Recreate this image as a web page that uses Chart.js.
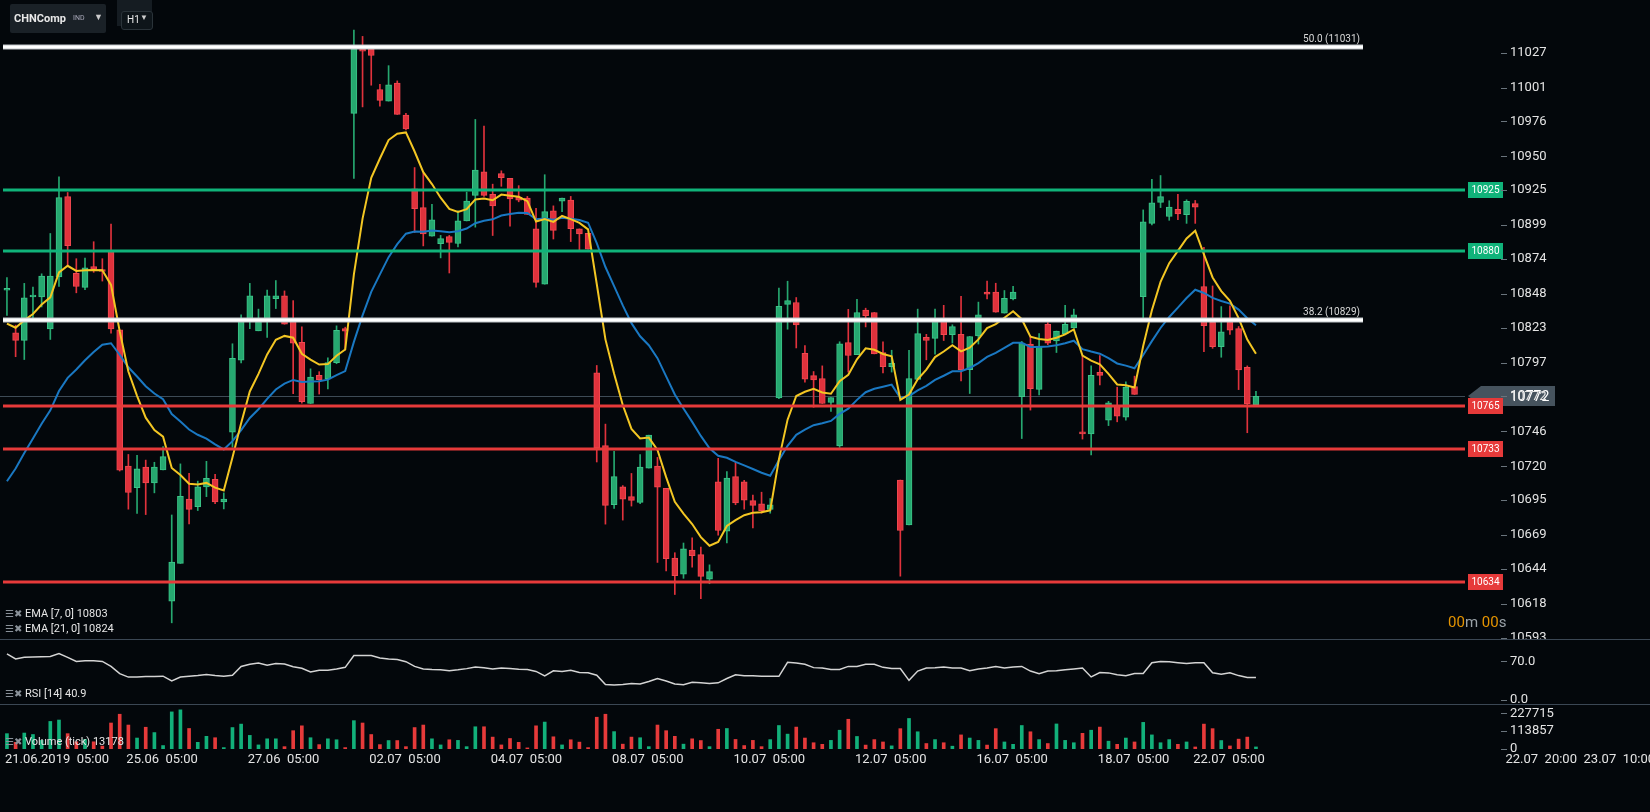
<!DOCTYPE html>
<html><head><meta charset="utf-8">
<script src="https://cdn.jsdelivr.net/npm/chart.js@4.4.1/dist/chart.umd.min.js"></script>
<style>
html,body{margin:0;padding:0;background:#03070b;width:1650px;height:812px;overflow:hidden;font-family:Roboto,"Open Sans",sans-serif;}
.pane{position:absolute;left:0;width:1650px;}
#p1{top:0;height:639px;}
#p2{top:639px;height:66px;border-top:1px solid #3b4754;box-sizing:border-box;}
#p3{top:704px;height:70px;border-top:1px solid #3b4754;box-sizing:border-box;}
canvas{display:block}
.leg{position:absolute;left:5px;color:#e6e6e6;font-size:11px;white-space:nowrap;}
.leg .ic{color:#8a929a;font-size:10px;margin-right:3px;}
.box1{position:absolute;left:10px;top:4px;width:96px;height:29px;background:#1a2127;border-radius:2px;}
.box1 b{position:absolute;left:4px;top:8px;color:#e8e8e8;font-size:11px;}
.box1 i{position:absolute;left:63px;top:10px;color:#aab;font-size:7px;font-style:normal;}
.box1 s{position:absolute;left:84px;top:8px;color:#ccc;font-size:9px;text-decoration:none;}
.box0{position:absolute;left:117px;top:0;width:35px;height:26px;background:#151c22;}
.box2{position:absolute;left:121px;top:11px;width:30px;height:17px;background:#0e151a;border:1px solid #2a3339;border-radius:3px;color:#e8e8e8;font-size:10px;}
.box2 span{position:absolute;left:5px;top:2px}
.box2 s{position:absolute;left:18px;top:1px;color:#ccc;font-size:8px;text-decoration:none}
#timer{position:absolute;left:1448px;top:613px;font-size:15px;color:#9aa2a8;}
#timer em{font-style:normal;color:#e59400}
</style></head><body>
<div class="pane" id="p1"><canvas id="c1" width="1650" height="639" style="width:1650px;height:639px"></canvas></div>
<div class="pane" id="p2"><canvas id="c2" width="1650" height="64" style="width:1650px;height:64px"></canvas></div>
<div class="pane" id="p3"><canvas id="c3" width="1650" height="68" style="width:1650px;height:68px"></canvas></div>
<div class="box1"><b>CHNComp</b><i>IND</i><s>▼</s></div>
<div class="box0"></div><div class="box2"><span>H1</span><s>▼</s></div>
<div class="leg" style="top:607px"><span class="ic">☰✖</span>EMA [7, 0] 10803</div>
<div class="leg" style="top:622px"><span class="ic">☰✖</span>EMA [21, 0] 10824</div>
<div class="leg" style="top:687px"><span class="ic">☰✖</span>RSI [14] 40.9</div>
<div class="leg" style="top:735px"><span class="ic">☰✖</span>Volume (tick) 13178</div>
<div id="timer"><em>00</em>m <em>00</em>s</div>
<script>
const opens=[10850.7,10819.2,10813.5,10845.8,10845.8,10822.0,10860.5,10920.1,10863.3,10852.8,10868.2,10866.1,10879.7,10821.3,10720.3,10704.2,10719.6,10707.7,10717.5,10620,10648.1,10695.8,10690.2,10704.9,10710.5,10693.7,10745.5,10798.8,10827.8,10820.6,10827.6,10844.4,10846.5,10827.6,10812.1,10766.7,10787.6,10785,10797,10822.2,10981.9,11029.6,11029.6,10999.6,10991,11004.4,10980.6,10925.9,10912,10890.8,10885.2,10890.5,10885.4,10902.1,10921.1,10938.5,10921.9,10937.2,10933.7,10919.7,10919,10896.2,10855.2,10909.6,10916.8,10917.6,10896.2,10892.9,10789.5,10735.4,10691.6,10704.8,10697.6,10693.4,10718.8,10720.2,10703.7,10652,10640,10658,10654.6,10636.3,10708.5,10672,10712.5,10708.5,10694.6,10692.3,10688.1,10770.9,10840.2,10841.6,10803.9,10787.4,10785.1,10767.4,10735.3,10811.8,10803,10836,10834.2,10804.4,10794.1,10709.9,10676.7,10784.6,10815.7,10815,10829,10817.8,10818,10791.7,10816.9,10849.4,10849.4,10833.7,10844.2,10771.8,10810.8,10777.2,10825.5,10813.1,10818.5,10822.7,10745.6,10744.2,10789.8,10754.3,10764.8,10756.6,10779.3,10845.9,10900.3,10915.9,10905.4,10910.8,10906.8,10915,10853.5,10826.9,10808.8,10827.3,10822.2,10793.5,10765.7];
const highs=[10860.1,10824.8,10855.8,10853.0,10862.9,10892.8,10934.8,10923.2,10874.1,10874.5,10886.7,10874.1,10899.8,10821.3,10728.9,10728.2,10724.7,10723.1,10734.8,10684,10721.9,10714.9,10709.1,10723.8,10714.2,10700.4,10811.0,10832.5,10855.8,10836.7,10850.9,10857.9,10850.2,10843.0,10823.6,10792.4,10790.3,10800.5,10824.3,10823.3,11043.6,11039,11029.6,11003.4,11017.3,11006,10981.9,10941.7,10937.7,10914.4,10891.4,10891.4,10909.6,10923.5,10977.4,10972.5,10929.4,10939.3,10933.7,10928.3,10920.3,10911.4,10936.4,10913.3,10919,10920.3,10896.2,10892.9,10794.9,10751.4,10731.3,10705.8,10714.8,10728.8,10743.2,10726.7,10703.7,10656,10663.2,10667.1,10660.2,10647,10726,10716.2,10723,10709.7,10698.8,10700.9,10696.2,10852.3,10857.4,10845.3,10809.7,10790.4,10794.6,10771.1,10812.5,10836.5,10843.9,10837.4,10834.2,10812.5,10806.2,10709.9,10806.1,10836.7,10818,10836.7,10839.5,10825.1,10846.1,10816.4,10841.9,10857.5,10855.9,10850.5,10853.6,10812.7,10816.9,10818.5,10826.7,10820.4,10839.5,10836.7,10802.2,10794.7,10802.2,10768.3,10778.8,10782.8,10787,10910.3,10933,10935.8,10917.1,10921.8,10917.8,10917.3,10882.6,10853.9,10838.6,10839.1,10823.8,10794.6,10775.8];
const lows=[10832.0,10801.4,10799.3,10827.3,10838.3,10814.2,10853.5,10868.7,10848.8,10851.2,10864.0,10857.5,10818.9,10716.6,10688.3,10685.2,10684.3,10700.4,10717.5,10604,10648.1,10677.3,10687.3,10697.6,10692.3,10688.5,10734.3,10796.7,10822.2,10820.6,10815.7,10837.1,10825.5,10774.0,10767.0,10766.7,10773.7,10777.5,10796.2,10806.4,10933.7,10986.7,11002.8,10987.3,10991,10981.1,10969.6,10893.5,10883.6,10890.8,10874.7,10863.5,10882.8,10902.1,10897.5,10920.3,10891.3,10927.8,10898.3,10916.3,10906.9,10853,10855.2,10888.7,10909,10886.8,10879.3,10881.2,10723.3,10677.2,10688.8,10680.2,10690.6,10692.3,10718.8,10648.8,10642.5,10625,10637,10645.3,10622,10633,10669,10663.2,10691.6,10688.3,10674.4,10685.3,10685.3,10770.2,10821.8,10807.9,10782.5,10763.9,10766.7,10760.9,10734.1,10790,10803,10823.5,10803.5,10789.3,10790,10638.6,10676.7,10784.6,10799.1,10803.3,10813.4,10811.5,10783.5,10774.1,10810.8,10844.2,10834.4,10833.7,10843.5,10740.7,10761.8,10773,10810.3,10804.5,10818.5,10822.7,10740.3,10728.6,10780.4,10750.3,10753.1,10754.3,10773.4,10830.2,10899.1,10912,10902.6,10903.1,10900.3,10900.3,10805.2,10807.6,10801,10817.9,10777,10745,10765.7];
const closes=[10852.1,10813.5,10845.1,10847.2,10861.2,10861.2,10919.4,10883.7,10853.5,10867.3,10866.4,10864.7,10822.0,10717.3,10700.7,10718.2,10707.7,10719.6,10727.3,10649,10697.9,10688.1,10704.9,10711.2,10693.7,10695.8,10800.2,10828.0,10846.5,10827.6,10846.5,10846.5,10825.5,10811.4,10768.0,10786.3,10784.4,10797,10820.9,10820.3,11029.6,11028,11024.8,10991.6,11003.1,10981.1,10970.4,10911.2,10892.4,10902.9,10889,10886.2,10902.1,10916.8,10939.8,10921.1,10913.3,10934.2,10918.4,10917.6,10906.9,10856.5,10909,10895.1,10919,10896.4,10892.4,10881.2,10733.8,10691.1,10712.5,10695.8,10694.8,10719.5,10743.2,10704.6,10651.6,10639,10658.8,10653.9,10638.5,10642,10672.5,10711.3,10693,10695,10691.1,10687.2,10691.6,10838.8,10843,10824.9,10784.8,10784.1,10766.7,10771.1,10810.9,10802.3,10834.2,10831.8,10803.5,10794.1,10796.5,10672.5,10785.1,10818.5,10813.4,10829,10817.8,10823.7,10791.7,10816.4,10832.5,10847.7,10834.4,10844.7,10849.4,10811.5,10777.6,10809.2,10811.5,10820.4,10825.5,10832.5,10744.2,10787.5,10787.5,10767.1,10757.3,10778.8,10773.4,10901.4,10915.5,10920.1,10912.4,10907.3,10916.6,10912.4,10824.5,10808.8,10819.8,10821,10791.6,10766.4,10772];
const rsiValues=[83.5,74.5,77.3,77.9,78.4,79,84.1,77.3,69.9,71.1,71.1,69.9,60.9,47.8,41.6,41.6,42.8,42.8,43.3,34.8,41.6,43.3,44.5,46.2,44.5,43.3,45,60.9,64.8,67.1,63.1,66,65.4,60.3,57.5,50.7,54.1,54.1,56.4,59.2,80.7,80.7,80.7,76.2,74.5,73.3,69.4,60.9,56.4,55.2,54.7,53,54.7,56.9,59.8,58.6,56.4,58,56.9,55.8,55.2,51.8,43.9,53,51.8,54.1,50.1,49.6,45,28,27.2,28.4,30.1,29,33.5,39.1,34.6,29,27.9,32.4,31.2,30.1,31.2,39.1,45.8,44.1,44.1,43,43,43,68.2,67.1,64.8,58.7,58.1,55.3,55.3,60.9,60.9,64.8,64.8,59.2,57,57,35.7,52.5,58.1,58.7,59.8,58.1,58.1,53.1,56.4,58.1,60.9,58.1,59.8,60.9,52.5,47.5,52.5,53.1,54.8,56.4,58.1,41.9,49.7,49.2,45.8,44.1,48,48,67.6,69.9,69.3,67.6,66,67.6,67.6,49.4,46.6,49.4,44.3,41,40.9];
const volumes=[98000,42500,102000,92500,55000,176000,185000,98000,46000,61000,46000,18500,166000,222000,153000,70000,139000,105000,22000,237000,250000,131000,42500,81000,72000,9000,137000,159000,87000,26000,65000,65000,15000,117000,148000,72000,28000,65000,59000,9000,181000,166000,92500,28000,54000,54000,15000,137000,153000,65000,26000,59000,55000,15000,142000,142000,76000,26000,67000,42500,7000,148000,172000,78000,26000,59000,44000,9000,203000,222000,111000,31000,76000,72000,15000,153000,117000,81000,31000,65000,54000,15000,126000,131000,61000,22000,55000,15000,60000,150000,95000,140000,70000,40000,30000,55000,120000,190000,80000,25000,60000,45000,20000,130000,195000,110000,35000,60000,40000,18000,90000,70000,55000,25000,130000,45000,30000,150000,110000,60000,35000,160000,55000,40000,100000,120000,140000,50000,30000,70000,45000,170000,90000,40000,60000,30000,45000,13000,159000,130000,54000,19500,63000,76000,13178];
const priceTicks=[11027,11001,10976,10950,10925,10899,10874,10848,10823,10797,10772,10746,10720,10695,10669,10644,10618,10593];
const rsiTicks=[70,0];
const volTicks=[0,113857,227715];
const timeTickIdx=[0,14,28,42,56,70,84,98,112,126,137,173,182];
const timeTickText=['21.06.2019  05:00','25.06  05:00','27.06  05:00','02.07  05:00','04.07  05:00','08.07  05:00','10.07  05:00','12.07  05:00','16.07  05:00','18.07  05:00','22.07  05:00','22.07  20:00','23.07  10:00'];
const whiteLevels=[11031,10829];
const whiteLevelNames=['50.0','38.2'];
const greenLevels=[10925,10880];
const redLevels=[10765,10733,10634];
const lastPrice=10772;
const ema7Seed=10826, ema21Seed=10709;

const GREEN='#26a870', RED='#e0323c', GLINE='#10b37a', RLINE='#e63a3a';
const n=closes.length;
function ema(seed,p){const k=2/(p+1);const out=[seed];for(let i=1;i<n;i++)out.push(out[i-1]+k*(closes[i]-out[i-1]));return out;}
const e7=ema(ema7Seed,7), e21=ema(ema21Seed,21);
const up=closes.map((c,i)=>c>=opens[i]);
const XMIN=-0.8, XMAX=168.1;
Chart.defaults.font.family='Roboto';
const mkX=()=>({type:'linear',min:XMIN,max:XMAX,display:false,offset:false,bounds:'data'});
const mkY=(min,max,ticks)=>({type:'linear',position:'right',min,max,
  afterFit:s=>{s.width=185;},
  afterBuildTicks:a=>{a.ticks=ticks.map(v=>({value:v}));},
  grid:{display:false,drawTicks:false},border:{display:false},
  ticks:{display:false}});
const mkOpts=(scales,pad)=>({responsive:false,maintainAspectRatio:false,animation:false,devicePixelRatio:1,
  layout:{padding:pad||0},plugins:{legend:{display:false},tooltip:{enabled:false}},scales});
function axisLabels(ticks,fmt,dy){return {id:'axl',afterDraw(ch){const {ctx,chartArea:a,scales:{y}}=ch;ctx.save();
  ctx.font='13px Roboto';ctx.fillStyle='#e4e4e4';ctx.textAlign='left';ctx.textBaseline='middle';
  ticks.forEach(v=>{const py=y.getPixelForValue(v)+(dy||0);ctx.fillText(fmt?fmt(v):String(v),a.right+45,py);
    ctx.fillStyle='#6a747c';ctx.fillRect(a.right+36,Math.round(y.getPixelForValue(v)),6,1);ctx.fillStyle='#e4e4e4';});
  ctx.restore();}};}

const levelPlugin={id:'levels',
 beforeDatasetsDraw(ch){const {ctx,chartArea:a,scales:{y}}=ch;const py=Math.round(y.getPixelForValue(lastPrice));
   ctx.save();ctx.fillStyle='#3e4b56';ctx.fillRect(a.left,py,a.right-a.left,1);ctx.restore();},
 afterDatasetsDraw(ch){const {ctx,chartArea:a,scales:{y}}=ch;ctx.save();
  const lp=Math.round(y.getPixelForValue(lastPrice));ctx.fillStyle='#46535e';ctx.beginPath();
  ctx.moveTo(a.right+3,lp);ctx.lineTo(a.right+16,lp-10);ctx.lineTo(a.right+90,lp-10);ctx.lineTo(a.right+90,lp+10);ctx.lineTo(a.right+16,lp+10);ctx.closePath();ctx.fill();
  ctx.fillStyle='#fff';ctx.font='14px Roboto';ctx.textAlign='left';ctx.textBaseline='middle';ctx.fillText(String(lastPrice),a.right+45,lp+1);
  const x0=3, xw=1363;
  whiteLevels.forEach((v,k)=>{const py=Math.round(y.getPixelForValue(v));
    ctx.fillStyle='#bfc4c8';ctx.fillRect(x0,py-2.5,xw-x0,5);ctx.fillStyle='#ffffff';ctx.fillRect(x0,py-1.5,xw-x0,3);
    ctx.font='10px Roboto';ctx.fillStyle='#d8d8d8';ctx.textAlign='right';ctx.textBaseline='bottom';
    ctx.fillText(whiteLevelNames[k]+' ('+v+')',xw-3,py-3);});
  const box=(v,col)=>{const py=Math.round(y.getPixelForValue(v));ctx.fillStyle=col;ctx.fillRect(x0,py-1.5,a.right-x0,3);
    ctx.fillRect(a.right+3,py-8,35,16);ctx.fillStyle='#fff';ctx.font='10px Roboto';ctx.textAlign='center';ctx.textBaseline='middle';ctx.fillText(String(v),a.right+20.5,py+0.5);};
  greenLevels.forEach(v=>box(v,GLINE));redLevels.forEach(v=>box(v,RLINE));
  ctx.restore();}};

new Chart(document.getElementById('c1'),{type:'bar',
 data:{datasets:[
  {type:'line',data:e21.map((v,i)=>({x:i,y:v})),borderColor:'#1a78c2',borderWidth:2,pointRadius:0,order:1},
  {type:'line',data:e7.map((v,i)=>({x:i,y:v})),borderColor:'#f3c623',borderWidth:2,pointRadius:0,order:0},
  {data:closes.map((c,i)=>({x:i,y:[lows[i],highs[i]]})),backgroundColor:up.map(u=>u?GREEN:RED),barThickness:1,grouped:false,order:3},
  {data:closes.map((c,i)=>({x:i,y:[opens[i],c]})),backgroundColor:up.map(u=>u?GREEN:RED),borderColor:up.map(u=>u?'#3cc488':'#f04850'),borderWidth:1,borderSkipped:false,barThickness:6,grouped:false,order:2}
 ]},
 options:mkOpts({x:mkX(),y:mkY(10592,11066,priceTicks)}),plugins:[levelPlugin,axisLabels(priceTicks)]});

new Chart(document.getElementById('c2'),{type:'line',
 data:{datasets:[{data:rsiValues.map((v,i)=>({x:i,y:v})),borderColor:'#d4d4d4',borderWidth:1.5,pointRadius:0}]},
 options:mkOpts({x:mkX(),y:mkY(-7,108.6,rsiTicks)}),plugins:[axisLabels(rsiTicks,v=>v.toFixed(1))]});

const timePlugin={id:'time',afterDraw(ch){const {ctx,scales:{x}}=ch;ctx.save();ctx.font='13px Roboto';ctx.fillStyle='#e4e4e4';ctx.textAlign='left';ctx.textBaseline='middle';
 timeTickIdx.forEach((t,k)=>{ctx.fillText(timeTickText[k],x.getPixelForValue(t)-2,ch.height-13);});ctx.restore();}};
new Chart(document.getElementById('c3'),{type:'bar',
 data:{datasets:[{data:volumes.map((v,i)=>({x:i,y:v})),backgroundColor:up.map(u=>u?'#12b07a':'#e63a3a'),barThickness:3}]},
 options:mkOpts({x:mkX(),y:mkY(0,281000,volTicks)},{top:0,bottom:24}),plugins:[timePlugin,axisLabels(volTicks)]});
</script></body></html>
